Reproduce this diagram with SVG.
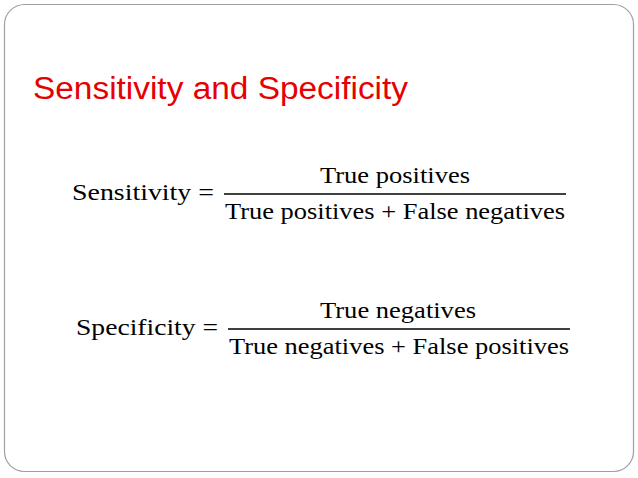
<svg xmlns="http://www.w3.org/2000/svg" width="638" height="478" viewBox="0 0 638 478">
<style>
.m{font-family:"Liberation Serif","DejaVu Serif",serif;font-size:23px;fill:#000}
.c{text-anchor:middle}
</style>
<rect width="638" height="478" fill="#fff"/>
<rect x="4.5" y="4.5" width="629" height="467" rx="20" fill="none" stroke="#a0a0a0" stroke-width="1.2"/>
<text x="33" y="99" font-family="Liberation Sans,Arial,sans-serif" font-size="31" fill="#e60000" textLength="375" lengthAdjust="spacingAndGlyphs">Sensitivity and Specificity</text>
<g id="sensitivity">
<text class="m" x="72" y="200" textLength="142" lengthAdjust="spacingAndGlyphs">Sensitivity =</text>
<text class="m c" x="395" y="183" textLength="150" lengthAdjust="spacingAndGlyphs">True positives</text>
<line x1="224" y1="194" x2="566" y2="194" stroke="#000" stroke-width="1.3"/>
<text class="m c" x="395" y="219" textLength="340" lengthAdjust="spacingAndGlyphs">True positives + False negatives</text>
</g>
<g id="specificity">
<text class="m" x="76" y="335" textLength="142" lengthAdjust="spacingAndGlyphs">Specificity =</text>
<text class="m c" x="398" y="318" textLength="156" lengthAdjust="spacingAndGlyphs">True negatives</text>
<line x1="228" y1="329" x2="570" y2="329" stroke="#000" stroke-width="1.3"/>
<text class="m c" x="399" y="354" textLength="340" lengthAdjust="spacingAndGlyphs">True negatives + False positives</text>
</g>
</svg>
